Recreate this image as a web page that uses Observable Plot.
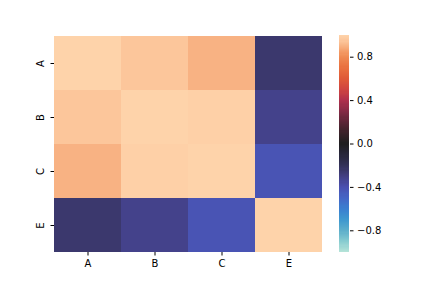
<!DOCTYPE html>
<html>
<head>
<meta charset="utf-8">
<script src="https://cdn.jsdelivr.net/npm/d3@7"></script>
<script src="https://cdn.jsdelivr.net/npm/@observablehq/plot@0.6"></script>
<style>
  html, body { margin: 0; padding: 0; background: #fff; }
  #wrap { position: relative; width: 432px; height: 288px; }
  #wrap svg { position: absolute; left: 0; top: 0; }
</style>
</head>
<body>
<div id="wrap"></div>
<script>
// Variables (rows and columns of the correlation matrix)
const categories = ["A", "B", "C", "E"];
// Correlation values, one array per row
const rowA = [1.00, 0.95, 0.90, -0.25];
const rowB = [0.95, 1.00, 0.99, -0.32];
const rowC = [0.90, 0.99, 1.00, -0.42];
const rowE = [-0.25, -0.32, -0.42, 1.00];
const rows = [rowA, rowB, rowC, rowE];

// Colorbar ticks
const cbarTicks = [-0.8, -0.4, 0.0, 0.4, 0.8];

// "icefire"-like diverging colormap stops
const stopValues = [-1.0, -0.9, -0.8, -0.7, -0.6, -0.5, -0.4, -0.3, -0.2, -0.1, 0.0,
                    0.1, 0.2, 0.3, 0.4, 0.5, 0.6, 0.7, 0.8, 0.85, 0.9, 0.95, 1.0];
const stopColors = ["#b6e4d8", "#86cbd0", "#5caecb", "#3e98cf", "#3a7fd0", "#4565c5",
                    "#4a50b0", "#433f82", "#333157", "#27263a", "#1f1e1f",
                    "#3a2229", "#5d2537", "#862a46", "#b0304d", "#d04540", "#e05a38",
                    "#e9703f", "#ef8a53", "#f49d68", "#f8b283", "#fcc69b", "#fed3aa"];

const table = [];
rows.forEach((r, i) => r.forEach((v, j) => table.push({row: categories[i], col: categories[j], value: v})));

const colorScale = {type: "linear", domain: stopValues, range: stopColors, interpolate: "rgb"};
const font = "'DejaVu Sans', sans-serif";

const main = Plot.plot({
  width: 432, height: 288,
  marginLeft: 54, marginRight: 110, marginTop: 35, marginBottom: 36,
  style: {fontFamily: font, fontSize: "10px", color: "#000", background: "transparent"},
  x: {domain: categories, padding: 0, label: null, axis: null},
  y: {domain: categories, padding: 0, label: null, axis: null},
  color: colorScale,
  marks: [
    Plot.cell(table, {x: "col", y: "row", fill: "value", inset: 0, shapeRendering: "crispEdges"}),
    Plot.axisX({anchor: "bottom", tickSize: 3.5, tickPadding: 4, label: null, stroke: "#000", fill: "#000"}),
    Plot.axisY({anchor: "left", tickSize: 3.5, tickPadding: 7.5, tickRotate: -90, textAnchor: "middle", label: null, stroke: "#000", fill: "#000"})
  ]
});

const ramp = d3.range(-1, 1, 0.01);
const cbar = Plot.plot({
  width: 432, height: 288,
  marginLeft: 339, marginRight: 83, marginTop: 35, marginBottom: 36,
  style: {fontFamily: font, fontSize: "10px", color: "#000", background: "transparent"},
  x: {domain: [0, 1], axis: null},
  y: {domain: [-1, 1], axis: null},
  color: colorScale,
  marks: [
    Plot.rect(ramp, {x1: 0, x2: 1, y1: d => d, y2: d => Math.min(1, d + 0.012), fill: d => d + 0.005, shapeRendering: "crispEdges"}),
    Plot.axisY({anchor: "right", ticks: cbarTicks, tickFormat: d3.format(".1f"), tickSize: 3.5, tickPadding: 4, label: null, stroke: "#000", fill: "#000"})
  ]
});

const wrap = document.getElementById("wrap");
wrap.appendChild(main);
wrap.appendChild(cbar);
</script>
</body>
</html>
